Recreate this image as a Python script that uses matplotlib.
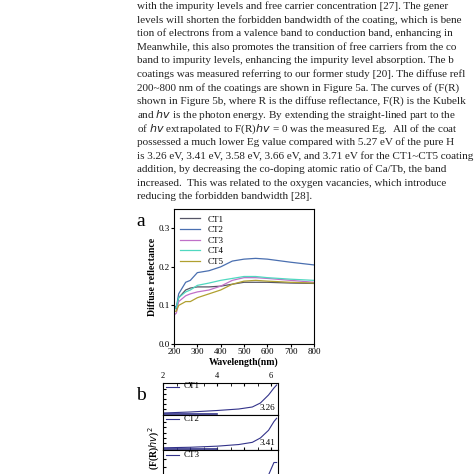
import matplotlib
matplotlib.use("Agg")
import matplotlib.pyplot as plt

W = 474
lines = [
 "with the impurity levels and free carrier concentration [27]. The gener",
 "levels will shorten the forbidden bandwidth of the coating, which is bene",
 "tion of electrons from a valence band to conduction band, enhancing in",
 "Meanwhile, this also promotes the transition of free carriers from the co",
 "band to impurity levels, enhancing the impurity level absorption. The b",
 "coatings was measured referring to our former study [20]. The diffuse refl",
 "200~800 nm of the coatings are shown in Figure 5a. The curves of (F(R)",
 "shown in Figure 5b, where R is the diffuse reflectance, F(R) is the Kubelk",
 "and $hv$ is the photon energy. By extending the straight-lined part to the",
 "of $hv$ extrapolated to F(R)$hv$ = 0 was the measured Eg.  All of the coat",
 "possessed a much lower Eg value compared with 5.27 eV of the pure H",
 "is 3.26 eV, 3.41 eV, 3.58 eV, 3.66 eV, and 3.71 eV for the CT1~CT5 coating",
 "addition, by decreasing the co-doping atomic ratio of Ca/Tb, the band",
 "increased.  This was related to the oxygen vacancies, which introduce",
 "reducing the forbidden bandwidth [28].",
]

wl = [200, 210, 220, 250, 270, 300, 350, 400, 450, 500, 550, 600, 700, 800]
ct1 = [0.100, 0.090, 0.120, 0.140, 0.145, 0.148, 0.148, 0.150, 0.155, 0.160, 0.160, 0.160, 0.158, 0.157]
ct2 = [0.100, 0.095, 0.130, 0.160, 0.165, 0.185, 0.190, 0.200, 0.215, 0.220, 0.222, 0.220, 0.212, 0.205]
ct3 = [0.075, 0.080, 0.110, 0.125, 0.130, 0.135, 0.140, 0.150, 0.165, 0.172, 0.172, 0.170, 0.165, 0.160]
ct4 = [0.090, 0.095, 0.120, 0.135, 0.140, 0.152, 0.158, 0.165, 0.170, 0.175, 0.175, 0.172, 0.168, 0.165]
ct5 = [0.085, 0.085, 0.100, 0.110, 0.110, 0.120, 0.130, 0.140, 0.155, 0.163, 0.165, 0.163, 0.160, 0.158]
names = ["CT1", "CT2", "CT3", "CT4", "CT5"]
colors = ["#555566", "#4a6fb0", "#c070c8", "#50d8c0", "#b0a030"]

hv = [2.0, 3.0, 4.0, 4.8, 5.3, 5.6, 5.9, 6.1, 6.2]
b1 = [0.02, 0.04, 0.07, 0.10, 0.14, 0.22, 0.38, 0.52, 0.58]
b2 = [0.02, 0.03, 0.05, 0.08, 0.12, 0.20, 0.34, 0.50, 0.56]
b3 = [0.02, 0.03, 0.04, 0.06, 0.10, 0.18, 0.30, 0.46, 0.46]
bvals = [b1, b2, b3]
eg = ["3.26", "3.41"]

fig = plt.figure(figsize=(4.74, 4.74), dpi=100)
serif = "Liberation Serif"
for i, t in enumerate(lines):
    fig.text(137 / W, 1 - (9 + i * 13.6) / W, t, fontsize=8.0, family=serif,
             va="baseline", ha="left", color="#222222")

def ax_rect(l, t, r, b):
    return [l / W, 1 - b / W, (r - l) / W, (b - t) / W]

ax = fig.add_axes(ax_rect(174, 209, 314, 344))
for y, n, c in zip([ct1, ct2, ct3, ct4, ct5], names, colors):
    ax.plot(wl, y, color=c, lw=0.9, label=n)
ax.set_xlim(200, 800)
ax.set_ylim(0, 0.35)
ax.set_yticks([0.0, 0.1, 0.2, 0.3])
ax.set_xticks(range(200, 801, 100))
ax.tick_params(labelsize=6.5, length=2, pad=1)
for lab in ax.get_xticklabels() + ax.get_yticklabels():
    lab.set_family(serif)
ax.set_xlabel("Wavelength(nm)", fontsize=7, family=serif, fontweight="bold", labelpad=1)
ax.set_ylabel("Diffuse reflectance", fontsize=7, family=serif, fontweight="bold", labelpad=1)
ax.legend(loc="upper left", frameon=False, prop={"family": serif, "size": 6.5},
          handlelength=2.2, labelspacing=0.25, borderaxespad=0.3)
fig.text(136 / W, 1 - 226 / W, "a", fontsize=14, family=serif)

tops = [383, 415, 450]
bots = [415, 450, 500]
for k in range(3):
    a = fig.add_axes(ax_rect(163, tops[k], 278, bots[k]))
    a.plot(hv, bvals[k], color="#33338a", lw=0.8)
    a.plot([2.0, 4.0], [0.0, 0.0], color="#33338a", lw=1.2)
    a.set_xlim(2, 6.25)
    a.set_ylim(-0.02, 0.62)
    a.set_yticks([0.1, 0.2, 0.3, 0.4, 0.5])
    a.set_yticklabels([])
    a.tick_params(direction="in", length=2, labelsize=6)
    a.set_xticks([2, 3, 4, 5, 6])
    a.set_xticks([2.5, 3.5, 4.5, 5.5], minor=True)
    if k == 0:
        a.xaxis.tick_top()
        a.set_xticklabels(["2", "", "4", "", "6"])
        for lab in a.get_xticklabels():
            lab.set_family(serif)
    else:
        a.set_xticklabels([])
    a.tick_params(axis="x", which="both", direction="in", length=2, pad=2)
    a.plot([2.1, 2.6], [0.55, 0.55], color="#33338a", lw=0.8)
    a.text(2.75, 0.55, names[k], fontsize=6.5, family=serif, va="center")
    if k < 2:
        a.text(6.15, 0.08, eg[k], fontsize=6.5, family=serif, ha="right")
fig.text(136 / W, 1 - 400 / W, "b", fontsize=14, family=serif)
fig.text(147 / W, 1 - 448 / W, "(F(R)$hv$)$^2$", fontsize=7, family=serif,
         fontweight="bold", rotation=90, va="center")

fig.savefig("out.png", dpi=100)
